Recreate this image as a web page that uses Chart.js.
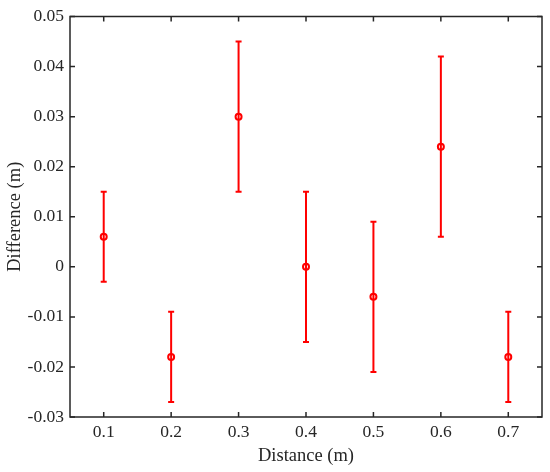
<!DOCTYPE html>
<html>
<head>
<meta charset="utf-8">
<script src="https://cdn.jsdelivr.net/npm/chart.js@4/dist/chart.umd.min.js"></script>
<style>
  html, body { margin: 0; padding: 0; background: #fff; }
  #wrap { width: 550px; height: 472px; }
</style>
</head>
<body>
<div id="wrap"><canvas id="chart"></canvas></div>
<script>
// data
const distances = [0.1, 0.2, 0.3, 0.4, 0.5, 0.6, 0.7];
const differences = [0.006, -0.018, 0.030, 0.000, -0.006, 0.024, -0.018];
const errLow = [-0.003, -0.027, 0.015, -0.015, -0.021, 0.006, -0.027];
const errHigh = [0.015, -0.009, 0.045, 0.015, 0.009, 0.042, -0.009];
const xTicks = [0.1, 0.2, 0.3, 0.4, 0.5, 0.6, 0.7];
const yTicks = [-0.03, -0.02, -0.01, 0, 0.01, 0.02, 0.03, 0.04, 0.05];

const RED = '#ff0000';
const AXIS = '#262626';
const FONT = '"Liberation Serif", "Times New Roman", serif';

// error bars drawn through the chart scales
const errorBars = {
    id: 'errorBars',
    beforeDatasetsDraw(chart) {
        const { ctx, scales: { x, y } } = chart;
        ctx.save();
        ctx.strokeStyle = RED;
        ctx.lineWidth = 2;
        distances.forEach((d, i) => {
            const px = x.getPixelForValue(d);
            const lo = y.getPixelForValue(errLow[i]);
            const hi = y.getPixelForValue(errHigh[i]);
            ctx.beginPath();
            ctx.moveTo(px, lo); ctx.lineTo(px, hi);
            ctx.moveTo(px - 3, lo); ctx.lineTo(px + 3, lo);
            ctx.moveTo(px - 3, hi); ctx.lineTo(px + 3, hi);
            ctx.stroke();
        });
        ctx.restore();
    }
};

// MATLAB-like box with inward ticks
const boxAxes = {
    id: 'boxAxes',
    afterDraw(chart) {
        const { ctx, chartArea: a, scales: { x, y } } = chart;
        ctx.save();
        ctx.strokeStyle = AXIS;
        ctx.lineWidth = 1.5;
        ctx.strokeRect(a.left, a.top, a.right - a.left, a.bottom - a.top);
        ctx.beginPath();
        xTicks.forEach(v => {
            const px = x.getPixelForValue(v);
            ctx.moveTo(px, a.bottom); ctx.lineTo(px, a.bottom - 5);
            ctx.moveTo(px, a.top); ctx.lineTo(px, a.top + 5);
        });
        yTicks.forEach(v => {
            const py = y.getPixelForValue(v);
            ctx.moveTo(a.left, py); ctx.lineTo(a.left + 5, py);
            ctx.moveTo(a.right, py); ctx.lineTo(a.right - 5, py);
        });
        ctx.stroke();
        ctx.restore();
    }
};

new Chart(document.getElementById('chart'), {
    type: 'scatter',
    data: {
        datasets: [{
            label: 'Difference',
            data: distances.map((d, i) => ({ x: d, y: differences[i] })),
            borderColor: RED,
            backgroundColor: 'rgba(255,255,255,0)',
            borderWidth: 2,
            pointRadius: 3,
            pointHoverRadius: 3
        }]
    },
    plugins: [errorBars, boxAxes],
    options: {
        responsive: true,
        maintainAspectRatio: false,
        animation: false,
        layout: { padding: { top: 12, right: 8, left: 0, bottom: 0 } },
        plugins: {
            legend: { display: false },
            tooltip: { enabled: false }
        },
        scales: {
            x: {
                type: 'linear',
                min: 0.05,
                max: 0.75,
                afterBuildTicks: s => { s.ticks = xTicks.map(v => ({ value: v })); },
                afterFit: s => { s.height = 55; },
                grid: { display: false, drawTicks: false },
                border: { display: false },
                ticks: {
                    color: AXIS,
                    padding: 5,
                    maxRotation: 0,
                    font: { family: FONT, size: 17.5 },
                    callback: v => v.toFixed(1)
                },
                title: {
                    display: true,
                    text: 'Distance (m)',
                    color: AXIS,
                    font: { family: FONT, size: 18.5 },
                    padding: { top: 0, bottom: 5 }
                }
            },
            y: {
                type: 'linear',
                min: -0.03,
                max: 0.05,
                afterBuildTicks: s => { s.ticks = yTicks.map(v => ({ value: v })); },
                afterFit: s => { s.width = 70; },
                grid: { display: false, drawTicks: false },
                border: { display: false },
                ticks: {
                    color: AXIS,
                    padding: 6,
                    font: { family: FONT, size: 17.5 },
                    callback: v => Math.abs(v) < 1e-9 ? '0' : v.toFixed(2)
                },
                title: {
                    display: true,
                    text: 'Difference (m)',
                    color: AXIS,
                    font: { family: FONT, size: 18.5 },
                    padding: { top: 4, bottom: 0 }
                }
            }
        }
    }
});
</script>
</body>
</html>
